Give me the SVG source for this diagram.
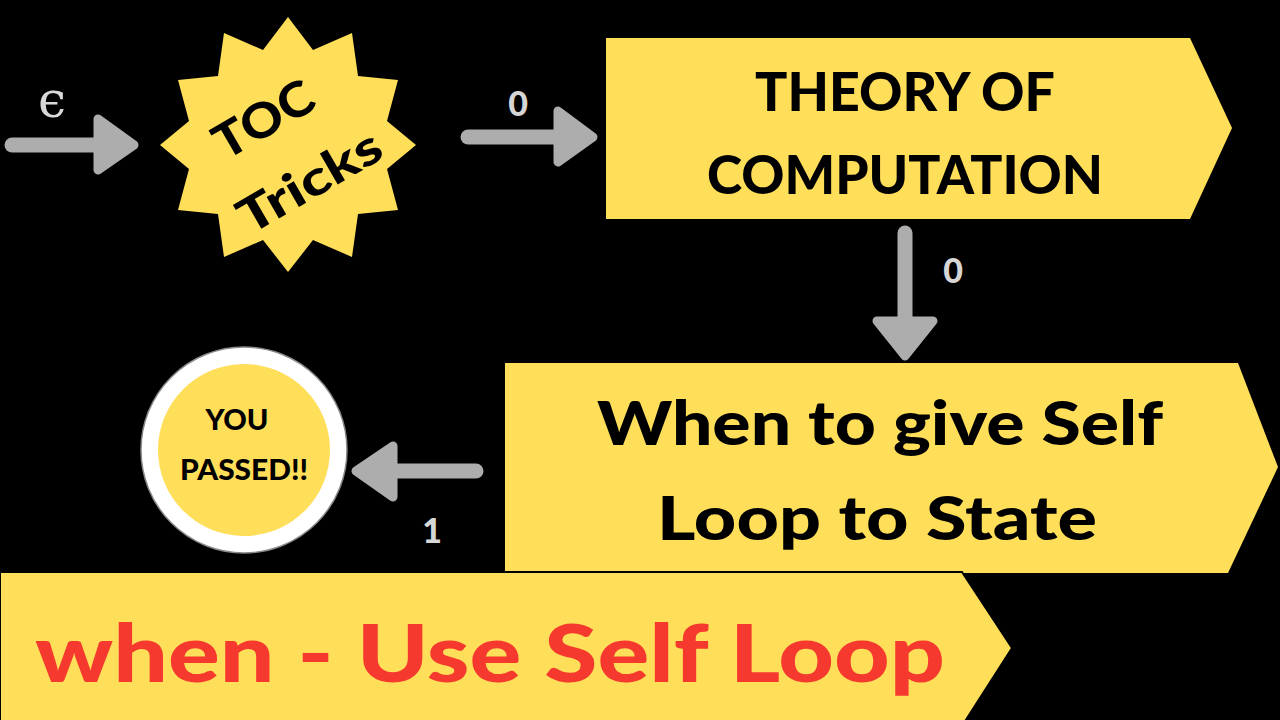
<svg xmlns="http://www.w3.org/2000/svg" width="1280" height="720" viewBox="0 0 1280 720">
<style>
.yel{fill:#ffde59}
.shaft{stroke:#adadad;stroke-width:15;stroke-linecap:round;fill:none}
.head{fill:#adadad;stroke:#adadad;stroke-width:9;stroke-linejoin:round}
.lbl{font-family:"Lato","Liberation Sans",sans-serif;font-weight:900;fill:#d6d6d6;text-anchor:middle}
.title{font-family:"Lato","Liberation Sans",sans-serif;font-weight:900;fill:#000;text-anchor:middle}
</style>
<rect width="1280" height="720" fill="#000"/>
<g id="connectors">
<line class="shaft" x1="12" y1="145" x2="100" y2="145"/>
<polygon class="head" points="98,119 134,145 98,170"/>
<text x="52" y="117" style="font-family:'DejaVu Serif','Liberation Serif',serif;font-size:50px;fill:#d9d9d9;text-anchor:middle">ϵ</text>
<line class="shaft" x1="468" y1="137" x2="560" y2="137"/>
<polygon class="head" points="558,111 593,137 558,162"/>
<text class="lbl" x="518" y="116" font-size="34">0</text>
<line class="shaft" x1="905" y1="233" x2="905" y2="322"/>
<polygon class="head" points="877,321 905,356 933,321"/>
<text class="lbl" x="953" y="283" font-size="34">0</text>
<line class="shaft" x1="476" y1="471" x2="390" y2="471"/>
<polygon class="head" points="393,446 356,471 393,497"/>
<text class="lbl" x="432" y="543" font-size="34">1</text>
</g>
<g id="node-toc">
<polygon class="yel" points="288,17 313,50 352,33 358,76 398,80 387,121 416,145 387,169 398,210 358,214 352,257 313,240 288,272 263,240 224,257 218,214 178,210 189,169 160,145 189,121 178,80 218,76 224,33 263,50"/>
<text class="title" transform="translate(272,134) rotate(-30)" font-size="48" textLength="108" lengthAdjust="spacingAndGlyphs">TOC</text>
<text class="title" transform="translate(318,196) rotate(-30)" font-size="48" textLength="158" lengthAdjust="spacingAndGlyphs">Tricks</text>
</g>
<g id="node-theory">
<polygon class="yel" points="606,38 1190,38 1232,128 1190,219 606,219"/>
<text class="title" x="905" y="111" font-size="53" textLength="300" lengthAdjust="spacingAndGlyphs">THEORY OF</text>
<text class="title" x="905" y="194" font-size="53" textLength="396" lengthAdjust="spacingAndGlyphs">COMPUTATION</text>
</g>
<g id="node-self">
<polygon class="yel" points="505,363 1238,363 1278,467 1228,573 505,573"/>
<text class="title" x="880" y="445" font-size="60" textLength="566" lengthAdjust="spacingAndGlyphs">When to give Self</text>
<text class="title" x="877" y="540" font-size="60" textLength="440" lengthAdjust="spacingAndGlyphs">Loop to State</text>
</g>
<g id="node-passed">
<circle cx="244" cy="450" r="103" fill="#fff" stroke="#888" stroke-width="1.5"/>
<circle cx="244" cy="450" r="86" class="yel"/>
<text class="title" x="237" y="430" font-size="28" textLength="63" lengthAdjust="spacingAndGlyphs">YOU</text>
<text class="title" x="244" y="480" font-size="28" textLength="128" lengthAdjust="spacingAndGlyphs">PASSED!!</text>
</g>
<g id="node-banner">
<polygon class="yel" points="0,572 962,572 1012,648 962,726 0,726" stroke="#000" stroke-width="2"/>
<text x="490" y="682" textLength="910" lengthAdjust="spacingAndGlyphs" style="font-family:'Lato','Liberation Sans',sans-serif;font-weight:900;font-size:80px;fill:#f5392e;text-anchor:middle">when - Use Self Loop</text>
</g>
</svg>
